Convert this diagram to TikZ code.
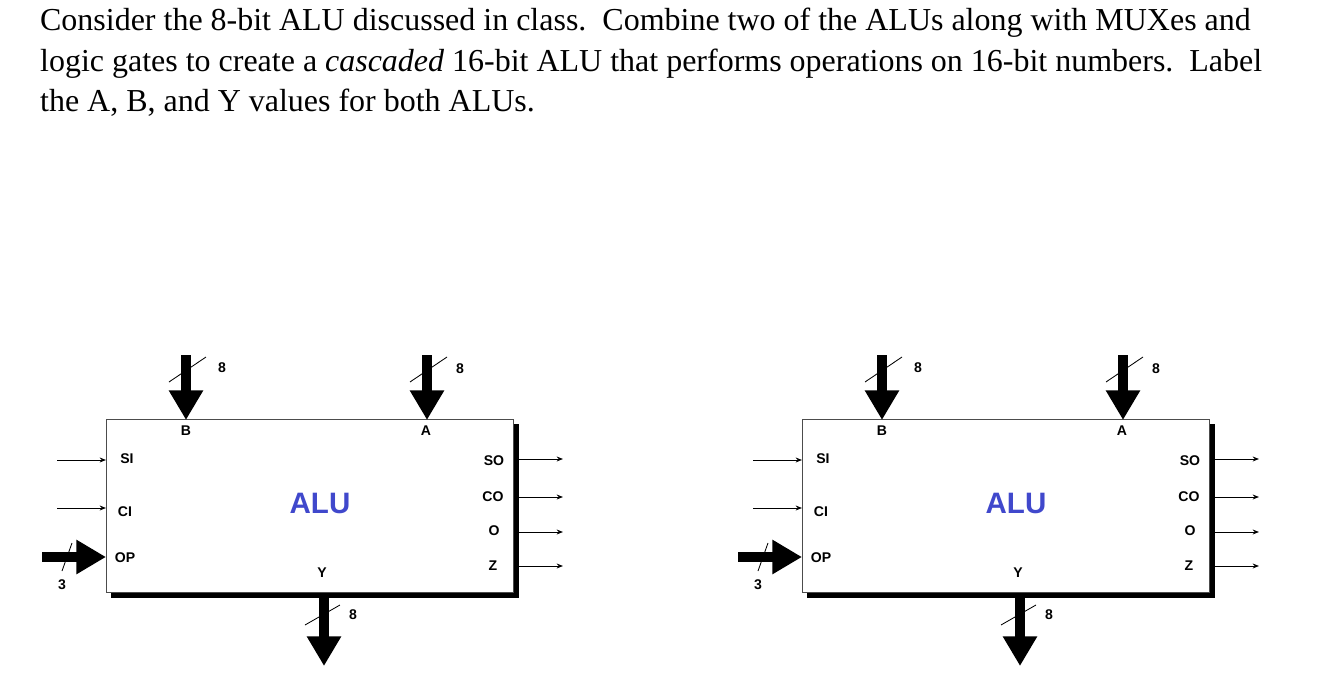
\documentclass[tikz,border=0pt]{standalone}
\usepackage{fontspec}
\setmainfont{Liberation Serif}
\newfontfamily\lsans{Liberation Sans}
\usetikzlibrary{arrows.meta}
\definecolor{alublue}{RGB}{64,72,204}
\begin{document}
\begin{tikzpicture}[x=0.05cm,y=-0.05cm,
  lbl/.style={font=\lsans\bfseries\fontsize{20}{20}\selectfont, inner sep=0pt},
  bus/.style={line width=13pt, -{Triangle[width=46pt,length=42pt]}},
  wire/.style={line width=1.4pt, -{Stealth[length=9pt,width=7pt]}},
  slash/.style={line width=1.2pt},
  title/.style={anchor=base west, inner sep=0pt, font=\fontsize{45.5}{50}\selectfont}]
  \useasboundingbox (0,0) rectangle (1328,696);

  % question text
  \node[title] (t1) at (40,30) {Consider the 8-bit ALU discussed in class.\ \ Combine two of the ALUs along with MUXes and};
  \node[title] (t2) at (40,71) {logic gates to create a \textit{cascaded} 16-bit ALU that performs operations on 16-bit numbers.\ \ Label};
  \node[title] (t3) at (40,111) {the A, B, and Y values for both ALUs.};

  \foreach \d/\s in {0/l,696/r} {
    \begin{scope}[xshift=\d*0.05cm]
      % shadow and box
      \fill[black] (111,424) rectangle (519,598);
      \draw[fill=white, line width=1.2pt, draw=gray!60!black] (106,419) rectangle (513,592);
      \node[font=\lsans\bfseries\fontsize{42}{42}\selectfont, text=alublue] (alu\s) at (320,503) {ALU};

      % port labels
      \node[lbl] (B\s) at (186,431) {B};
      \node[lbl] (A\s) at (426,431) {A};
      \node[lbl] (SI\s) at (127,459) {SI};
      \node[lbl] (CI\s) at (125,512) {CI};
      \node[lbl] (OP\s) at (125,558) {OP};
      \node[lbl] (Y\s) at (322,573) {Y};
      \node[lbl] (SO\s) at (494,461) {SO};
      \node[lbl] (CO\s) at (493,497) {CO};
      \node[lbl] (O\s) at (494,531) {O};
      \node[lbl] (Z\s) at (493,566) {Z};

      % connector end points
      \coordinate (bs\s) at (186,355); \coordinate (be\s) at (186,420);
      \coordinate (as\s) at (427,355); \coordinate (ae\s) at (427,420);
      \coordinate (ys\s) at (324,597); \coordinate (ye\s) at (324,666);
      \coordinate (sis\s) at (57,460); \coordinate (sie\s) at (106,460);
      \coordinate (cis\s) at (57,508); \coordinate (cie\s) at (106,508);
      \coordinate (ops\s) at (42,557); \coordinate (ope\s) at (106,557);
      \foreach \y/\n in {459/so,497/co,532/o,566/z} {
        \coordinate (\n s\s) at (519,\y); \coordinate (\n e\s) at (563,\y);
      }

      % buses
      \draw[bus] (bs\s) -- (be\s);
      \draw[bus] (as\s) -- (ae\s);
      \draw[bus] (ys\s) -- (ye\s);
      \draw[bus] (ops\s) -- (ope\s);
      \draw[slash] (169,382) -- (206,357);
      \draw[slash] (410,382) -- (447,357);
      \draw[slash] (305,625) -- (340,605);
      \draw[slash] (72,543) -- (62,571);
      \node[lbl] (n8b\s) at (222,368) {8};
      \node[lbl] (n8a\s) at (460,369) {8};
      \node[lbl] (n8y\s) at (353,615) {8};
      \node[lbl] (n3\s) at (62,585) {3};

      % single wires
      \draw[wire] (sis\s) -- (sie\s);
      \draw[wire] (cis\s) -- (cie\s);
      \foreach \n in {so,co,o,z}
        \draw[wire] (\n s\s) -- (\n e\s);
    \end{scope}
  }
\end{tikzpicture}
\end{document}
